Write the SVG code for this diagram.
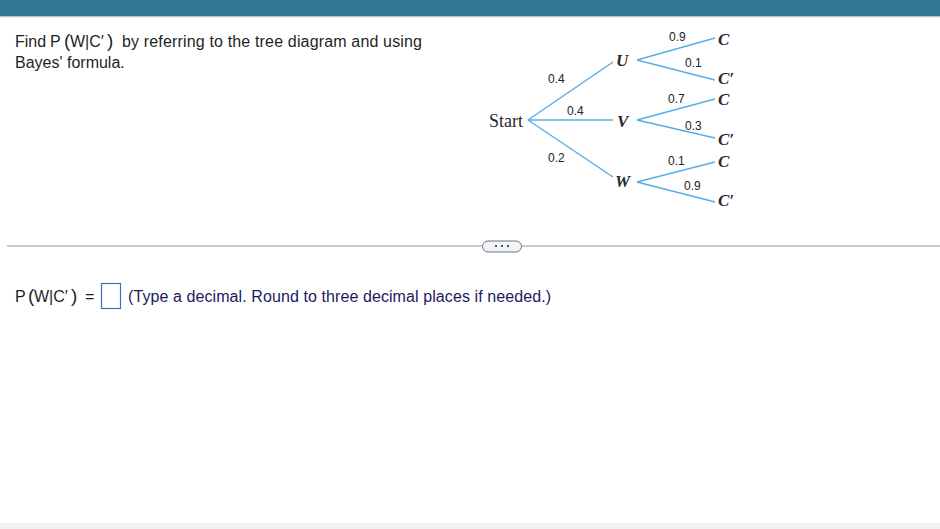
<svg xmlns="http://www.w3.org/2000/svg" width="940" height="529" viewBox="0 0 940 529">
<style>
.txt{font-family:"Liberation Sans",Arial,sans-serif;font-size:16px;fill:#1f1f1f}
.par{font-size:19px}
.hint{font-family:"Liberation Sans",Arial,sans-serif;font-size:16px;fill:#1c1a5e}
.lab{font-family:"Liberation Sans",Arial,sans-serif;font-size:12px;fill:#222}
.node{font-family:"Liberation Serif","Times New Roman",serif;font-size:17px;font-style:italic;font-weight:bold;fill:#2a2a2a}
.start{font-family:"Liberation Serif","Times New Roman",serif;font-size:18px;fill:#2a2a2a}
.br{stroke:#5aaee6;stroke-width:1.5;fill:none}
</style>
<rect x="0" y="0" width="940" height="529" fill="#ffffff"/>
<rect x="0" y="0" width="940" height="16.5" fill="#347994"/>
<rect x="0" y="16.5" width="940" height="1" fill="#c9d6dc"/>
<rect x="0" y="523" width="940" height="6" fill="#f2f2f2"/>

<text class="txt" y="47"><tspan x="15">Find</tspan><tspan x="50">P</tspan><tspan x="64" class="par">(</tspan><tspan x="70">W|C′</tspan><tspan x="107" class="par">)</tspan><tspan x="122" textLength="300" lengthAdjust="spacing">by referring to the tree diagram and using</tspan></text>
<text class="txt" x="15" y="68">Bayes' formula.</text>

<g id="connectors">
<line class="br" x1="528" y1="120" x2="613" y2="62"/>
<line class="br" x1="528" y1="120" x2="613" y2="120"/>
<line class="br" x1="528" y1="120" x2="613" y2="177"/>
<line class="br" x1="637" y1="60" x2="715" y2="38"/>
<line class="br" x1="637" y1="60" x2="715" y2="80"/>
<line class="br" x1="637" y1="120" x2="715" y2="99"/>
<line class="br" x1="637" y1="120" x2="715" y2="138"/>
<line class="br" x1="637" y1="182" x2="715" y2="162"/>
<line class="br" x1="637" y1="182" x2="715" y2="202"/>
<text class="lab" x="548" y="83">0.4</text>
<text class="lab" x="567" y="115">0.4</text>
<text class="lab" x="548" y="162">0.2</text>
<text class="lab" x="669" y="41">0.9</text>
<text class="lab" x="685" y="67">0.1</text>
<text class="lab" x="668" y="103">0.7</text>
<text class="lab" x="685" y="130">0.3</text>
<text class="lab" x="668" y="165">0.1</text>
<text class="lab" x="684" y="190">0.9</text>
</g>

<g id="node-start"><text class="start" x="489" y="127">Start</text></g>
<g id="node-U"><text class="node" x="616" y="66">U</text></g>
<g id="node-V"><text class="node" x="617" y="127">V</text></g>
<g id="node-W"><text class="node" x="615" y="187">W</text></g>
<g id="node-UC"><text class="node" x="718" y="45">C</text></g>
<g id="node-UC2"><text class="node" x="718" y="84">C′</text></g>
<g id="node-VC"><text class="node" x="718" y="105">C</text></g>
<g id="node-VC2"><text class="node" x="718" y="145">C′</text></g>
<g id="node-WC"><text class="node" x="718" y="167">C</text></g>
<g id="node-WC2"><text class="node" x="718" y="206">C′</text></g>

<g id="divider">
<line x1="7" y1="246" x2="940" y2="246" stroke="#8e96a6" stroke-width="1"/>
<rect x="482.5" y="241" width="39" height="11" rx="5.5" fill="#f3f4f6" stroke="#6b7280" stroke-width="1"/>
<rect x="495" y="245" width="2" height="2" fill="#555"/>
<rect x="501" y="245" width="2" height="2" fill="#555"/>
<rect x="507" y="245" width="2" height="2" fill="#555"/>
</g>

<g id="answer">
<text class="txt" y="302"><tspan x="15">P</tspan><tspan x="28" class="par">(</tspan><tspan x="34">W|C′</tspan><tspan x="71" class="par">)</tspan><tspan x="85">=</tspan></text>
<rect x="101.5" y="283.5" width="19" height="25" fill="#fff" stroke="#3c6fc9" stroke-width="1.2"/>
<text class="hint" x="128" y="302" textLength="423" lengthAdjust="spacing">(Type a decimal. Round to three decimal places if needed.)</text>
</g>
</svg>
